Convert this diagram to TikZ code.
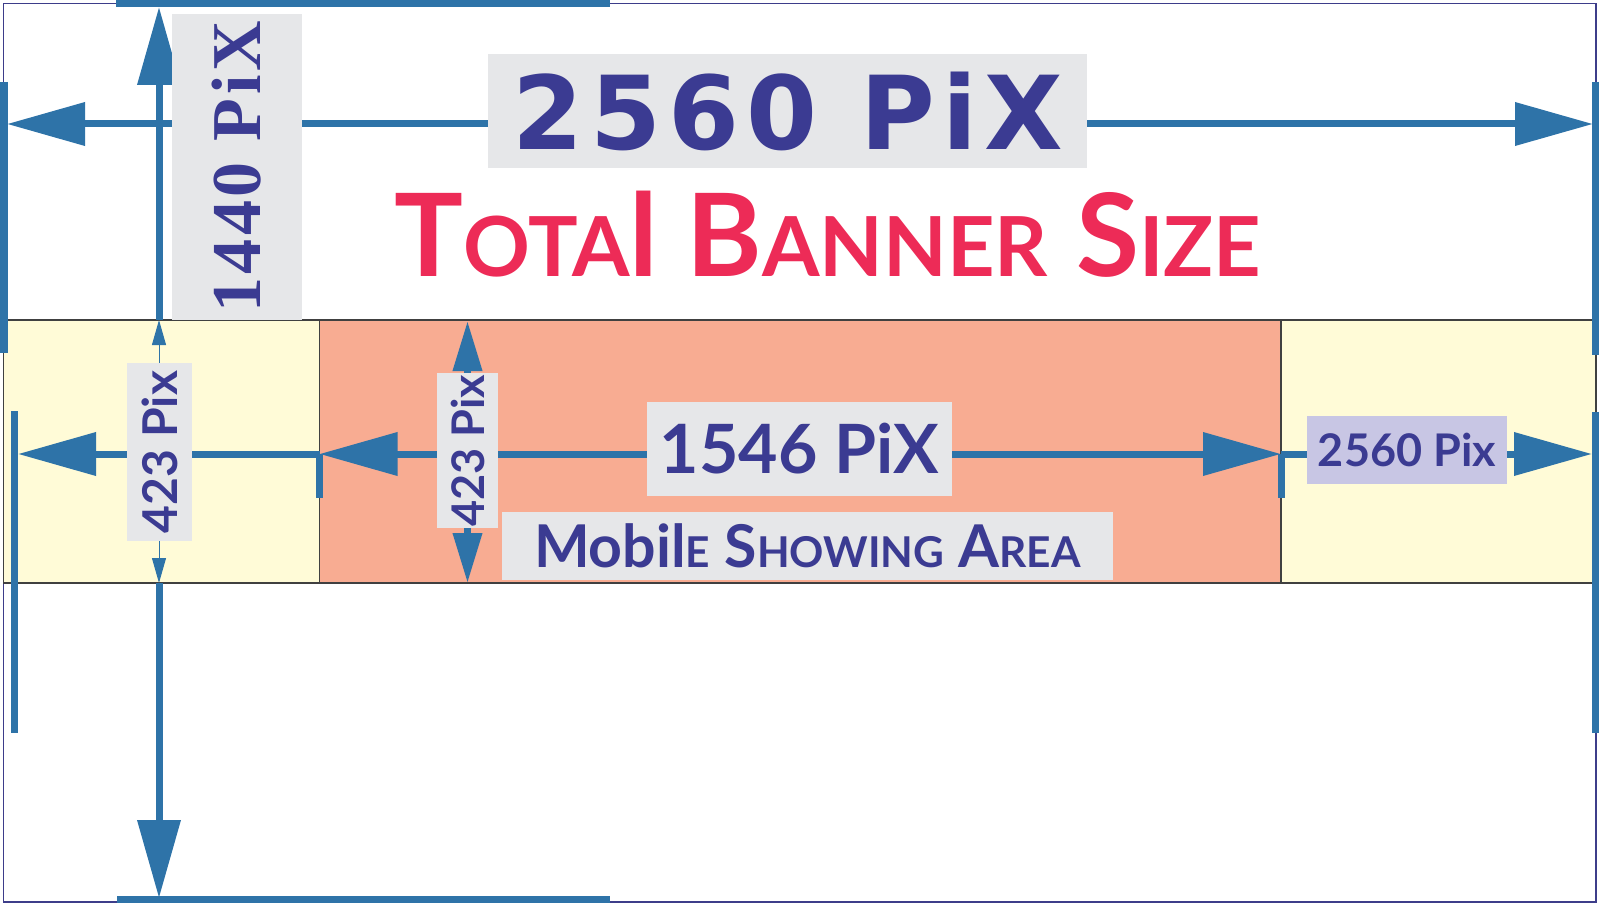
\documentclass[tikz,border=0pt]{standalone}
\usepackage{fontspec}
\usepackage{graphicx}
\setmainfont{Lato}
\newfontfamily\serifnum{Liberation Serif}[LetterSpace=5]
\newfontfamily\widenum{DejaVu Sans}[LetterSpace=7]
\usetikzlibrary{arrows.meta}

\definecolor{dimblue}{RGB}{46,115,168}
\definecolor{labelnavy}{RGB}{59,59,146}
\definecolor{boxgray}{RGB}{230,231,233}
\definecolor{bannerpale}{RGB}{255,251,215}
\definecolor{mobilesalmon}{RGB}{248,172,146}
\definecolor{boxlilac}{RGB}{200,198,228}
\definecolor{titlered}{RGB}{237,43,87}
\definecolor{framenavy}{RGB}{61,61,138}

\newcommand\smallpart[1]{\scalebox{0.72}{#1}}

\tikzset{
  dimline/.style={draw=dimblue, line width=7pt},
  thin dimline/.style={draw=dimblue, line width=1pt},
  label box/.style={fill=boxgray, inner sep=0pt, text=labelnavy, font=\bfseries},
  bighead/.tip={Triangle[length=78pt,width=42pt]},
  midhead/.tip={Triangle[length=50pt,width=28pt]},
  tinyhead/.tip={Triangle[length=25pt,width=14pt]},
}

\begin{document}
\begin{tikzpicture}[x=1pt,y=-1pt]
	\useasboundingbox (0,0) rectangle (1600,904);

	% frame and banner strip
	\draw[framenavy, line width=1.5pt] (3.5,3.5) rectangle (1596,902);
	\draw[fill=bannerpale, draw=black!75, line width=1.5pt] (3.5,320) rectangle (1596,583);
	\draw[fill=mobilesalmon, draw=black!75, line width=1.5pt] (319.5,320) rectangle (1281,583);

	\coordinate (topL) at (7,124);
	\coordinate (topR) at (1593,124);
	\coordinate (midL) at (18,454);
	\coordinate (midR) at (1592,454);
	\coordinate (tickL) at (319.5,454);
	\coordinate (tickR) at (1281,454);
	\coordinate (upTip) at (159,7);
	\coordinate (downTip) at (159,898);
	\coordinate (stripTop) at (159,320);
	\coordinate (stripBot) at (159,583);
	\coordinate (mobTop) at (467.5,321);
	\coordinate (mobBot) at (467.5,583);

	% extension bars and ticks
	\draw[dimline] (116,3.5) -- (610,3.5);
	\draw[dimline] (117,899) -- (610,899);
	\draw[dimline] (4,82) -- (4,353);
	\draw[dimline] (1595.5,82) -- (1595.5,355);
	\draw[dimline] (14.5,411) -- (14.5,733);
	\draw[dimline] (1595.5,412) -- (1595.5,733);
	\draw[dimline] (tickL) -- (319.5,498);
	\draw[dimline] (tickR) -- (1281,498);

	% height of the whole banner
	\draw[dimline, -bighead] (stripTop) -- (upTip);
	\draw[dimline, -bighead] (stripBot) -- (downTip);
	\draw[thin dimline, tinyhead-tinyhead] (stripTop) -- (stripBot);

	\node[label box, minimum width=130pt, minimum height=306pt] (px1440) at (237,167)
		{\rotatebox{90}{\serifnum\fontsize{70}{70}\selectfont 1440 PiX}};
	\node[label box, minimum width=599pt, minimum height=114pt] (px2560) at (787.5,111)
		{\widenum\fontsize{102}{102}\selectfont 2560 PiX};
	\node[text=titlered, font=\bfseries, anchor=base, inner sep=0pt] (title) at (828,276)
		{\fontsize{115}{115}\selectfont T\smallpart{OTA}l B\smallpart{ANNER} S\smallpart{IZE}};

	\node[label box, minimum width=65pt, minimum height=178pt] (px423a) at (159.5,452)
		{\rotatebox{90}{\fontsize{48}{48}\selectfont 423 Pix}};
	\node[label box, minimum width=61pt, minimum height=155pt] (px423b) at (467.5,450.5)
		{\rotatebox{90}{\fontsize{45}{45}\selectfont 423 Pix}};
	\node[label box, minimum width=305pt, minimum height=94pt] (px1546) at (799.5,449)
		{\fontsize{68}{68}\selectfont 1546 PiX};
	\node[label box, minimum width=611pt, minimum height=68pt] (mobile) at (807.5,546)
		{\fontsize{59}{59}\selectfont Mobil\smallpart{E} S\smallpart{HOWING} A\smallpart{REA}};
	\node[label box, fill=boxlilac, minimum width=200pt, minimum height=68pt] (px2560s) at (1407,450)
		{\fontsize{45}{45}\selectfont 2560 Pix};

	% widths
	\draw[dimline, -bighead] (px1440.west |- topL) -- (topL);
	\draw[dimline] (px1440.east |- topL) -- (px2560.west |- topL);
	\draw[dimline, -bighead] (px2560.east |- topL) -- (topR);

	\draw[dimline, -bighead] (px423a.west |- midL) -- (midL);
	\draw[dimline] (px423a.east |- midL) -- (tickL);
	\draw[dimline, -bighead] (px423b.west |- midL) -- (tickL);
	\draw[dimline] (px423b.east |- midL) -- (px1546.west |- midL);
	\draw[dimline, -bighead] (px1546.east |- midL) -- (tickR);
	\draw[dimline] (tickR) -- (px2560s.west |- midL);
	\draw[dimline, -bighead] (px2560s.east |- midL) -- (midR);

	% height of the mobile area
	\draw[dimline, -midhead] (px423b.north) -- (mobTop);
	\draw[dimline, -midhead] (px423b.south) -- (mobBot);
\end{tikzpicture}
\end{document}
